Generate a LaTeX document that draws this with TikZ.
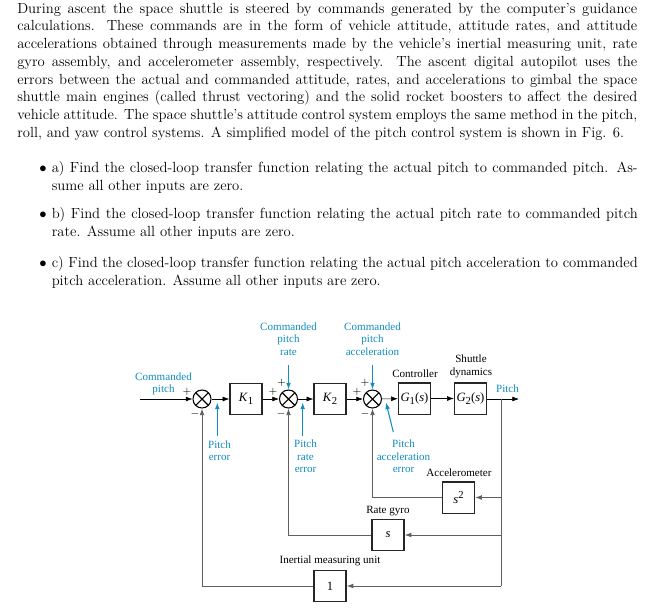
\documentclass[tikz,border=0pt]{standalone}
\usepackage{fontspec}
\newfontfamily\diag{Liberation Serif}
\usetikzlibrary{arrows.meta}
\definecolor{lblue}{RGB}{20,140,190}
\definecolor{fbgray}{RGB}{95,95,95}
\begin{document}
\begin{tikzpicture}[x=0.75pt,y=-0.75pt,
  blk/.style={draw=black!85, line width=1pt, minimum width=24pt, minimum height=23.5pt, inner sep=0pt, font=\diag\fontsize{9.5}{11}\selectfont},
  sumnode/.style={draw, circle, minimum size=13.5pt, inner sep=0pt, line width=0.8pt,
    path picture={\draw[line width=0.8pt] (path picture bounding box.north west) -- (path picture bounding box.south east) (path picture bounding box.north east) -- (path picture bounding box.south west);}},
  arr/.style={-{Latex[length=5pt,width=3.6pt]}},
  lbl/.style={font=\diag\fontsize{8.3}{9.4}\selectfont, align=center, inner sep=0pt},
  blbl/.style={lbl, text=lblue},
  sign/.style={font=\fontsize{8}{9}\selectfont, inner sep=0pt},
  fb/.style={draw=fbgray, line width=0.7pt},
  para/.style={inner sep=0pt, align=justify, font=\fontsize{11}{13.3}\selectfont},
  bul/.style={inner sep=0pt, font=\fontsize{11}{13.3}\selectfont},
]
\path[use as bounding box] (0,0) rectangle (646,607);

% ---------- text ----------
\node[para, text width=465pt, anchor=base west] (intro) at (17,13.2) {During ascent the space shuttle is steered by commands generated by the computer's guidance\linebreak
calculations. These commands are in the form of vehicle attitude, attitude rates, and attitude\linebreak
accelerations obtained through measurements made by the vehicle's inertial measuring unit, rate\linebreak
gyro assembly, and accelerometer assembly, respectively. The ascent digital autopilot uses the\linebreak
errors between the actual and commanded attitude, rates, and accelerations to gimbal the space\linebreak
shuttle main engines (called thrust vectoring) and the solid rocket boosters to affect the desired\linebreak
vehicle attitude. The space shuttle's attitude control system employs the same method in the pitch,\linebreak
roll, and yaw control systems. A simplified model of the pitch control system is shown in Fig. 6.};

\node[bul, anchor=base west] (bulA) at (39,172.4) {$\bullet$};
\node[para, text width=439.5pt, anchor=base west] (itemA) at (51.5,172.4) {a) Find the closed-loop transfer function relating the actual pitch to commanded pitch. As-\linebreak
sume all other inputs are zero.};
\node[bul, anchor=base west] (bulB) at (39,218.6) {$\bullet$};
\node[para, text width=439.5pt, anchor=base west] (itemB) at (51.5,218.6) {b) Find the closed-loop transfer function relating the actual pitch rate to commanded pitch\linebreak
rate. Assume all other inputs are zero.};
\node[bul, anchor=base west] (bulC) at (39,267.4) {$\bullet$};
\node[para, text width=439.5pt, anchor=base west] (itemC) at (51.5,267.4) {c) Find the closed-loop transfer function relating the actual pitch acceleration to commanded\linebreak
pitch acceleration. Assume all other inputs are zero.};

% ---------- diagram ----------
\node[sumnode] (s1) at (202,399) {};
\node[blk] (K1) at (246,399) {\textit{K}\raisebox{-.45ex}{\footnotesize 1}};
\node[sumnode] (s2) at (288.5,399) {};
\node[blk] (K2) at (330,399) {\textit{K}\raisebox{-.45ex}{\footnotesize 2}};
\node[sumnode] (s3) at (372.5,399) {};
\node[blk] (G1) at (414.5,398.5) {\textit{G}\raisebox{-.45ex}{\footnotesize 1}(\textit{s})};
\node[blk] (G2) at (470.5,398.5) {\textit{G}\raisebox{-.45ex}{\footnotesize 2}(\textit{s})};
\node[blk] (A) at (458.5,497.5) {\textit{s}\raisebox{.7ex}{\footnotesize 2}};
\node[blk] (R) at (388,535) {\textit{s}};
\node[blk] (I) at (330,586) {1};

\coordinate (in) at (140,399);
\coordinate (tap) at (501,399);
\coordinate (out) at (519,399);
\coordinate (tapA) at (501,497.5);
\coordinate (tapR) at (501,535);
\coordinate (tapI) at (501,586);

\draw[arr] (in) -- (s1);
\draw[arr] (s1) -- (K1);
\draw[arr] (K1) -- (s2);
\draw[arr] (s2) -- (K2);
\draw[arr] (K2) -- (s3);
\draw[arr] (s3) -- (G1);
\draw[arr] (G1) -- (G2);
\draw[arr] (G2.east |- tap) -- (out);

\draw[fb] (tap) -- (tapI);
\draw[fb, arr] (tapA) -- (A);
\draw[fb, arr] (A) -| (s3);
\draw[fb, arr] (tapR) -- (R);
\draw[fb, arr] (R) -| (s2);
\draw[fb, arr] (tapI) -- (I);
\draw[fb, arr] (I) -| (s1);

% signs
\node[sign] (p1) at (187,391.5) {$+$};
\node[sign] (m1) at (195,413.5) {$-$};
\node[sign] (p2l) at (273,392) {$+$};
\node[sign] (p2t) at (281.5,383) {$+$};
\node[sign] (m2) at (281,413.5) {$-$};
\node[sign] (p3l) at (357,392) {$+$};
\node[sign] (p3t) at (365,383) {$+$};
\node[sign] (m3) at (365,413.5) {$-$};

% labels
\node[blbl] (cp) at (163.5,384) {Commanded\\pitch};
\node[blbl] (cpr) at (288.5,339) {Commanded\\pitch\\rate};
\node[blbl] (cpa) at (372.5,339) {Commanded\\pitch\\acceleration};
\node[blbl] (pe) at (219.5,450.5) {Pitch\\error};
\node[blbl] (pre) at (305.5,456.5) {Pitch\\rate\\error};
\node[blbl] (pae) at (403.5,456.5) {Pitch\\acceleration\\error};
\node[blbl] (pout) at (507.5,389) {Pitch};
\node[lbl] (ctl) at (415,374) {Controller};
\node[lbl] (sd) at (471,366.5) {Shuttle\\dynamics};
\node[lbl] (accl) at (459,473) {Accelerometer};
\node[lbl] (rgl) at (388,511) {Rate gyro};
\node[lbl] (imul) at (330,561) {Inertial measuring unit};

% blue arrows
\coordinate (cprA) at (288.5,365);
\coordinate (cpaA) at (372.5,365);
\coordinate (peA) at (217.3,436);
\coordinate (peB) at (217.3,402.5);
\coordinate (preA) at (302.7,436);
\coordinate (preB) at (302.7,402.5);
\coordinate (paeA) at (393.3,432);
\coordinate (paeB) at (386,402.5);
\draw[lblue, line width=0.8pt, arr] (cprA) -- (s2);
\draw[lblue, line width=0.8pt, arr] (cpaA) -- (s3);
\draw[lblue, line width=0.8pt, arr] (peA) -- (peB);
\draw[lblue, line width=0.8pt, arr] (preA) -- (preB);
\draw[lblue, line width=0.8pt, arr] (paeA) -- (paeB);
\end{tikzpicture}
\end{document}
